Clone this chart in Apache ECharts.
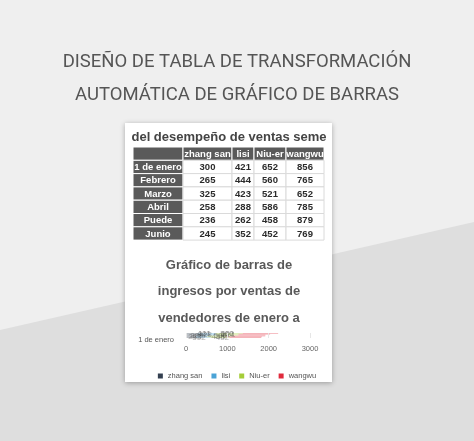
<!DOCTYPE html>
<html>
<head>
<meta charset="utf-8">
<script src="https://cdn.jsdelivr.net/npm/echarts@6/dist/echarts.min.js"></script>
<style>
  html, body { margin: 0; padding: 0; background: #efefef; }
  #chart { width: 474px; height: 441px; }
</style>
</head>
<body>
<div id="chart"></div>
<script>
// datos de la tabla
var months = ['1 de enero', 'Febrero', 'Marzo', 'Abril', 'Puede', 'Junio'];
var sellers = ['zhang san', 'lisi', 'Niu-er', 'wangwu'];
var zhangSan = [300, 265, 325, 258, 236, 245];
var lisi = [421, 444, 423, 288, 262, 352];
var niuEr = [652, 560, 521, 586, 458, 452];
var wangwu = [856, 765, 652, 785, 879, 769];
var sellerColors = ['#333f50', '#4aa3d6', '#a5cd39', '#e02a3c'];
var xTicks = [0, 1000, 2000, 3000];

var pageTitle = ['DISEÑO DE TABLA DE TRANSFORMACIÓN', 'AUTOMÁTICA DE GRÁFICO DE BARRAS'];
var tableTitle = 'del desempeño de ventas seme';
var chartTitle = ['Gráfico de barras de', 'ingresos por ventas de', 'vendedores de enero a'];

var values = [zhangSan, lisi, niuEr, wangwu];

var myChart = echarts.init(document.getElementById('chart'));

// tabla dibujada con graphic
var colX = [133, 183, 232, 254, 286, 324];
var rowTop = 147, rowH = 13.3;
var cells = [];

function cell(x0, x1, y0, text, dark) {
    cells.push({
        type: 'rect',
        shape: { x: x0, y: y0, width: x1 - x0, height: rowH },
        style: { fill: dark ? '#5a5a5a' : '#ffffff', stroke: dark ? '#ffffff' : '#dadada', lineWidth: 1 },
        z: 10
    });
    cells.push({
        type: 'text',
        x: (x0 + x1) / 2,
        y: y0 + rowH / 2 + 0.5,
        style: {
            text: text,
            fill: dark ? '#ffffff' : '#2b2b2b',
            font: 'bold 9.5px "Liberation Sans", Arial, sans-serif',
            align: 'center',
            verticalAlign: 'middle'
        },
        z: 11
    });
}

cell(colX[0], colX[1], rowTop, '', true);
for (var j = 0; j < sellers.length; j++) {
    cell(colX[j + 1], colX[j + 2], rowTop, sellers[j], true);
}
for (var i = 0; i < months.length; i++) {
    var y0 = rowTop + rowH * (i + 1);
    cell(colX[0], colX[1], y0, months[i], true);
    for (var j = 0; j < sellers.length; j++) {
        cell(colX[j + 1], colX[j + 2], y0, String(values[j][i]), false);
    }
}

var graphics = [
    {
        type: 'polygon',
        shape: { points: [[0, 330], [474, 222], [474, 441], [0, 441]] },
        style: { fill: '#dedede' },
        z: -10
    },
    {
        type: 'rect',
        shape: { x: 125, y: 123, width: 207, height: 259 },
        style: { fill: '#ffffff', shadowBlur: 5, shadowColor: 'rgba(0,0,0,0.3)', shadowOffsetY: 1 },
        z: -9
    },
    {
        type: 'text',
        x: 237, y: 62,
        style: {
            text: pageTitle[0], fill: '#555555',
            font: '18.5px "Liberation Sans Narrow", "Roboto", sans-serif',
            align: 'center', verticalAlign: 'middle'
        },
        z: 5
    },
    {
        type: 'text',
        x: 237, y: 95,
        style: {
            text: pageTitle[1], fill: '#555555',
            font: '18.5px "Liberation Sans Narrow", "Roboto", sans-serif',
            align: 'center', verticalAlign: 'middle'
        },
        z: 5
    },
    {
        type: 'text',
        x: 229, y: 137,
        style: {
            text: tableTitle, fill: '#444444',
            font: 'bold 13px "Liberation Sans", Arial, sans-serif',
            align: 'center', verticalAlign: 'middle'
        },
        z: 5
    }
];
for (var k = 0; k < chartTitle.length; k++) {
    graphics.push({
        type: 'text',
        x: 229, y: 265 + k * 26.5,
        style: {
            text: chartTitle[k], fill: '#595959',
            font: 'bold 13px "Liberation Sans", Arial, sans-serif',
            align: 'center', verticalAlign: 'middle'
        },
        z: 5
    });
}

var series = [];
for (var s = 0; s < sellers.length; s++) {
    series.push({
        name: sellers[s],
        type: 'bar',
        stack: 'total',
        data: values[s],
        barWidth: 0.5,
        itemStyle: { color: sellerColors[s], opacity: 0.3 },
        label: {
            show: s === 1 || s === 2,
            position: s === 1 ? 'insideRight' : 'insideLeft',
            fontSize: 8,
            fontWeight: 'bold',
            color: '#333333'
        },
        z: 3
    });
}

myChart.setOption({
    animation: false,
    backgroundColor: 'transparent',
    graphic: graphics.concat(cells),
    grid: { left: 186, right: 164, top: 333, height: 5, containLabel: false },
    xAxis: {
        type: 'value',
        min: 0,
        max: 3000,
        interval: 1000,
        z: 4,
        axisLine: { show: false },
        axisTick: { show: false },
        splitLine: { show: true, lineStyle: { color: '#e6e6e6', width: 1 } },
        axisLabel: {
            fontSize: 7.5,
            color: '#666666',
            margin: 7,
            fontFamily: 'Liberation Sans',
            formatter: function (v) { return xTicks.indexOf(v) >= 0 ? String(v) : ''; }
        }
    },
    yAxis: {
        type: 'category',
        data: months,
        inverse: true,
        z: 4,
        axisLine: { show: false },
        axisTick: { show: false },
        axisLabel: {
            fontSize: 7.5,
            color: '#555555',
            margin: 12,
            interval: 100,
            verticalAlign: 'top',
            lineHeight: 13,
            fontFamily: 'Liberation Sans'
        }
    },
    legend: {
        data: sellers,
        top: 367,
        left: 'center',
        itemWidth: 5,
        itemHeight: 5,
        itemGap: 9,
        icon: 'rect',
        itemStyle: { opacity: 1 },
        textStyle: { fontSize: 7.5, color: '#555555', fontFamily: 'Liberation Sans' }
    },
    color: sellerColors,
    series: series
});
</script>
</body>
</html>
